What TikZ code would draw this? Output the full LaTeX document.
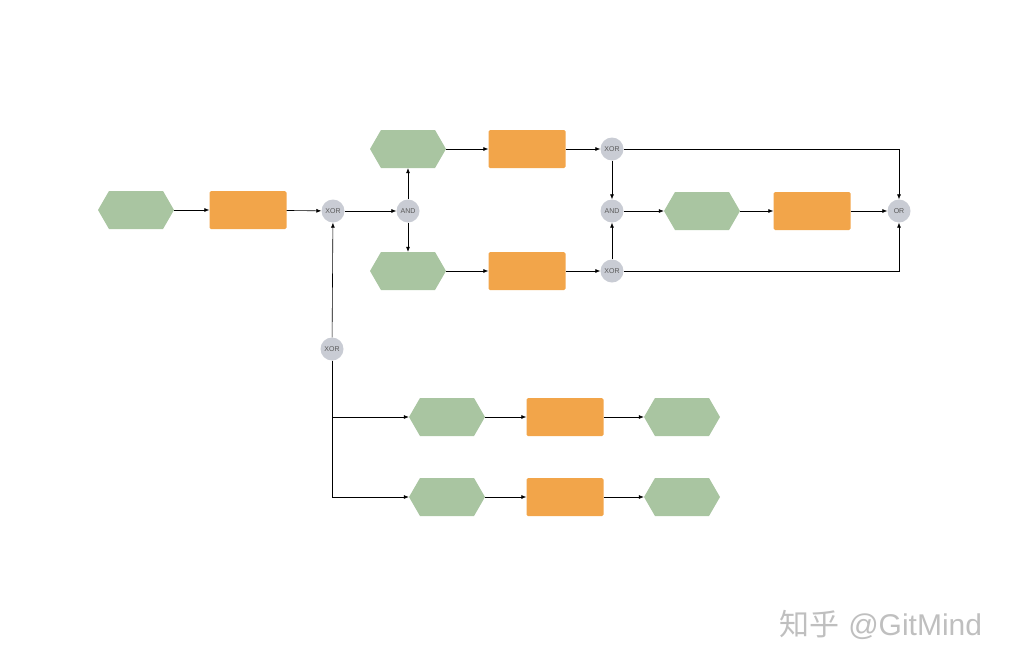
\documentclass[tikz,border=0pt]{standalone}
\usepackage{fontspec}
\setmainfont{Liberation Sans}
\newfontfamily\cjk{Noto Sans CJK SC}
\usetikzlibrary{shapes.symbols,arrows.meta}
\definecolor{hexg}{HTML}{A9C5A1}
\definecolor{boxo}{HTML}{F2A54A}
\definecolor{gate}{HTML}{C9CCD4}
\begin{document}
\begin{tikzpicture}[x=1pt,y=-1pt,
 hexa/.style={signal,signal to=east and west,signal pointer angle=120,fill=hexg,minimum width=76pt,minimum height=38pt,inner sep=0pt},
 task/.style={rectangle,rounded corners=1.5pt,fill=boxo,minimum width=77pt,minimum height=38pt,inner sep=0pt},
 gatec/.style={circle,fill=gate,minimum size=23pt,inner sep=0pt,font=\fontsize{7}{7}\selectfont,text=black!65},
 conn/.style={-{Latex[length=5pt,width=4pt]},line width=0.6pt}]
\useasboundingbox (0,0) rectangle (1010,665);
\node[hexa] (h1) at (136,210) {};
\node[task] (r1) at (248,210) {};
\node[gatec] (x1) at (333,211) {XOR};
\node[gatec] (a1) at (408,211) {AND};
\node[hexa] (ht) at (408,149) {};
\node[task] (rt) at (527,149) {};
\node[gatec] (xt) at (612,149) {XOR};
\node[hexa] (hb) at (408,271) {};
\node[task] (rb) at (527,271) {};
\node[gatec] (xb) at (612,271) {XOR};
\node[gatec] (a2) at (612,211) {AND};
\node[hexa] (hm) at (702,211) {};
\node[task] (rm) at (812,211) {};
\node[gatec] (or) at (899,211) {OR};
\node[gatec] (x2) at (332,349) {XOR};
\node[hexa] (ha) at (447,417) {};
\node[task] (ra) at (565,417) {};
\node[hexa] (ha2) at (682,417) {};
\node[hexa] (hbb) at (447,497) {};
\node[task] (rbb) at (565,497) {};
\node[hexa] (hb2) at (682,497) {};
\draw[conn] (h1) -- (r1);
\draw[conn] (r1) -- (x1);
\draw[conn] (x1) -- (a1);
\draw[conn] (a1) -- (ht);
\draw[conn] (a1) -- (hb);
\draw[conn] (ht) -- (rt);
\draw[conn] (rt) -- (xt);
\draw[conn] (hb) -- (rb);
\draw[conn] (rb) -- (xb);
\draw[conn] (xt) -- (a2);
\draw[conn] (xb) -- (a2);
\draw[conn] (a2) -- (hm);
\draw[conn] (hm) -- (rm);
\draw[conn] (rm) -- (or);
\draw[conn] (xt) -| (or);
\draw[conn] (xb) -| (or);
\draw[conn] (x2) -- (x1);
\draw[conn] (x2) |- (ha);
\draw[conn] (x2) |- (hbb);
\draw[conn] (ha) -- (ra);
\draw[conn] (ra) -- (ha2);
\draw[conn] (hbb) -- (rbb);
\draw[conn] (rbb) -- (hb2);
\node[text=black!25,font=\fontsize{30}{30}\selectfont] (wm) at (881,625) {{\cjk 知乎} @GitMind};
\end{tikzpicture}
\end{document}
